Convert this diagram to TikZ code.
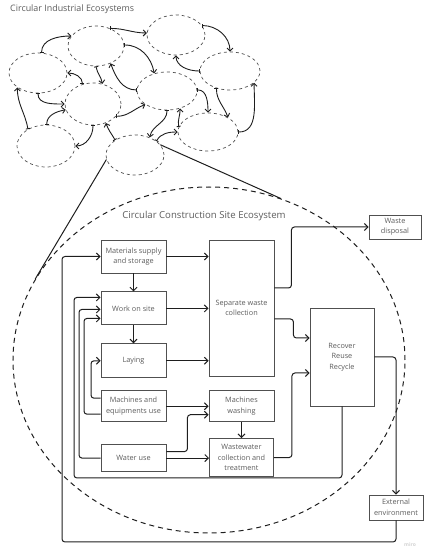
\documentclass[tikz,border=0pt]{standalone}
\usepackage{fontspec}
\setmainfont{Open Sans}
\usepackage{tikz}
\usetikzlibrary{shapes,arrows.meta}
\usetikzlibrary{positioning}
\definecolor{boxline}{HTML}{505050}
\definecolor{textgray}{HTML}{5C5C5C}
\definecolor{wire}{HTML}{1E1E1E}
\tikzset{x=1pt, y=1pt, node distance=18pt, font=\fontsize{7.3}{10.5}\selectfont}
\tikzstyle{block} = [draw=boxline, line width=0.9pt, fill=white, rectangle, minimum width=65pt, minimum height=33pt, inner sep=1pt, text=textgray, align=center]
\tikzstyle{eco} = [draw=boxline, dashed, dash pattern=on 3pt off 3pt, line width=0.7pt, ellipse, inner sep=0pt]
\tikzstyle{flow} = [draw=wire, line width=1pt, rounded corners=3pt, -{Straight Barb[length=3.5pt,width=7pt]}]
\tikzstyle{link} = [draw=wire, line width=0.9pt, {Bar[width=4pt]}-{Straight Barb[length=3pt,width=6pt]}]
\tikzstyle{heading} = [text=textgray, inner sep=0pt]

\begin{document}
\begin{tikzpicture}
		\useasboundingbox (0,0) rectangle (428,550);

		\node [heading, anchor=base west, font=\fontsize{8.9}{10}\selectfont] (title_cie) at (10,538) {Circular Industrial Ecosystems};

		\node [eco, minimum width=56pt, minimum height=40pt] (eco1) at (96,504) {};
		\node [eco, minimum width=58pt, minimum height=40pt] (eco2) at (176,515) {};
		\node [eco, minimum width=60pt, minimum height=38pt] (eco3) at (230,479) {};
		\node [eco, minimum width=58pt, minimum height=40pt] (eco4) at (38,477) {};
		\node [eco, minimum width=56pt, minimum height=42pt] (eco5) at (93,446) {};
		\node [eco, minimum width=60pt, minimum height=38pt] (eco6) at (167,459) {};
		\node [eco, minimum width=60pt, minimum height=38pt] (eco7) at (208,418) {};
		\node [eco, minimum width=58pt, minimum height=42pt] (eco8) at (46,404) {};
		\node [eco, minimum width=58pt, minimum height=40pt] (eco9) at (135,395) {};

		\draw [link] (eco4.80) to [out=90, in=180] (eco1.158);
		\draw [link] (eco1.51) to [out=0, in=180] (eco2.176);
		\draw [link] (eco2.20) to [out=0, in=90] (eco3.90);
		\draw [link] (eco1.2) to [out=0, in=100] (eco6.126);
		\draw [link] (eco3.180) to [out=180, in=-90] (eco2.270);
		\draw [link] (eco1.270) to [out=-80, in=100] (eco5.65);
		\draw [link] (eco5.118) to [out=90, in=0] (eco4.0);
		\draw [link] (eco6.178) to [out=180, in=-70] (eco1.310);
		\draw [link] (eco4.270) to [out=-90, in=180] (eco5.180);
		\draw [link] (eco8.137) to [out=100, in=-90] (eco4.215);
		\draw [link] (eco8.88) to [out=90, in=190] (eco5.192);
		\draw [link] (eco5.270) to [out=-90, in=0] (eco8.0);
		\draw [link] (eco5.-28) to [out=0, in=200] (eco6.212);
		\draw [link] (eco6.2) to [out=0, in=90] (eco7.90);
		\draw [link] (eco3.232) to [out=-90, in=110] (eco7.36);
		\draw [link] (eco7.0) to [out=0, in=-90] (eco3.-26);
		\draw [link] (eco6.270) to [out=-90, in=80] (eco9.50);
		\draw [link] (eco9.33) to [out=60, in=180] (eco7.180);
		\draw [link] (eco7.170) to [out=100, in=-90] (eco6.-53);
		\draw [link] (eco9.143) to [out=120, in=-70] (eco5.-56);

		\node [ellipse, draw=wire, line width=1pt, dash pattern=on 5pt off 4pt, minimum width=392pt, minimum height=346pt, inner sep=0pt] (site) at (209,190) {};
		\node [heading, anchor=base, font=\fontsize{9.6}{11}\selectfont] (title_ccse) at (204,331) {Circular Construction Site Ecosystem};

		\draw [wire, line width=1pt] (eco9.189) -- (site.155);
		\draw [wire, line width=1pt] (eco9.22) -- (site.66);

		\node [block] (mat) at (133.5,293.5) {Materials supply\\and storage};
		\node [block, below=of mat] (work) {Work on site};
		\node [block, below=of work, minimum height=34pt] (lay) {Laying};
		\node [block, below=12pt of lay, minimum height=31pt] (mach_use) {Machines and\\equipments use};
		\node [block, below=22pt of mach_use, minimum height=27pt] (water) {Water use};

		\node [block, minimum height=136pt] (sep) at (241.5,242) {Separate waste\\collection};
		\node [block, minimum height=31pt] at (mach_use -| sep) (wash) {Machines\\washing};
		\node [block, below=16pt of wash, minimum height=38pt, minimum width=64pt] (wwater) {Wastewater\\collection and\\treatment};

		\node [block, minimum width=64pt, minimum height=98pt] (rrr) at (342,193) {Recover\\Reuse\\Recycle};
		\node [block, minimum width=52pt, minimum height=24pt] (disposal) at (395,323) {Waste\\disposal};
		\node [block, minimum width=54pt, minimum height=25pt] (ext) at (396,42.5) {External\\environment};

		\coordinate (lane_ext) at (62,8);
		\coordinate (lane_loop) at (74,72);
		\coordinate (lane_water) at (79,0);
		\coordinate (lane_mach) at (84,0);
		\coordinate (lane_lay) at (91,0);

		\draw [flow] (mat.east) -- (mat.east -| sep.west);
		\draw [flow] (mat.south) -- (work.north);
		\draw [flow] (work.east) -- (work.east -| sep.west);
		\draw [flow] (work.south) -- (lay.north);
		\draw [flow] (lay.east) -- (lay.east -| sep.west);

		\draw [flow] (mach_use.east) -- (mach_use.east -| wash.west);
		\draw [flow] ([yshift=6.5pt]water.east) -- ++(21,0) |- ([yshift=-8.5pt]wash.west);
		\draw [flow] (water.east) -- (water.east -| wwater.west);
		\draw [flow] (wash.south) -- (wash.south |- wwater.north);

		\draw [flow] ([yshift=20pt]sep.east) -- ++(17,0) |- (disposal.west);
		\draw [flow] ([yshift=-11pt]sep.east) -- ++(19,0) |- ([yshift=19pt]rrr.west);
		\draw [flow] (wwater.east) -- ++(18,0) |- ([yshift=-16pt]rrr.west);
		\draw [flow] (rrr.east) -| (ext.north);

		\draw [flow] (rrr.south) |- (lane_loop) |- ([yshift=11pt]work.west);
		\draw [flow] ([yshift=8pt]mach_use.west) -- ([yshift=8pt]mach_use.west -| lane_lay) |- (lay.west);
		\draw [flow] ([yshift=-8pt]mach_use.west) -- ([yshift=-8pt]mach_use.west -| lane_mach) |- ([yshift=-10pt]work.west);
		\draw [flow] (water.west) -- (water.west -| lane_water) |- ([yshift=-1pt]work.west);
		\draw [flow] (ext.south) |- (lane_ext) |- (mat.west);

		\node [text=gray!35, font=\fontsize{5}{5}\selectfont\bfseries, inner sep=0pt] (miro) at (410,5) {miro};
	\end{tikzpicture}
\end{document}
